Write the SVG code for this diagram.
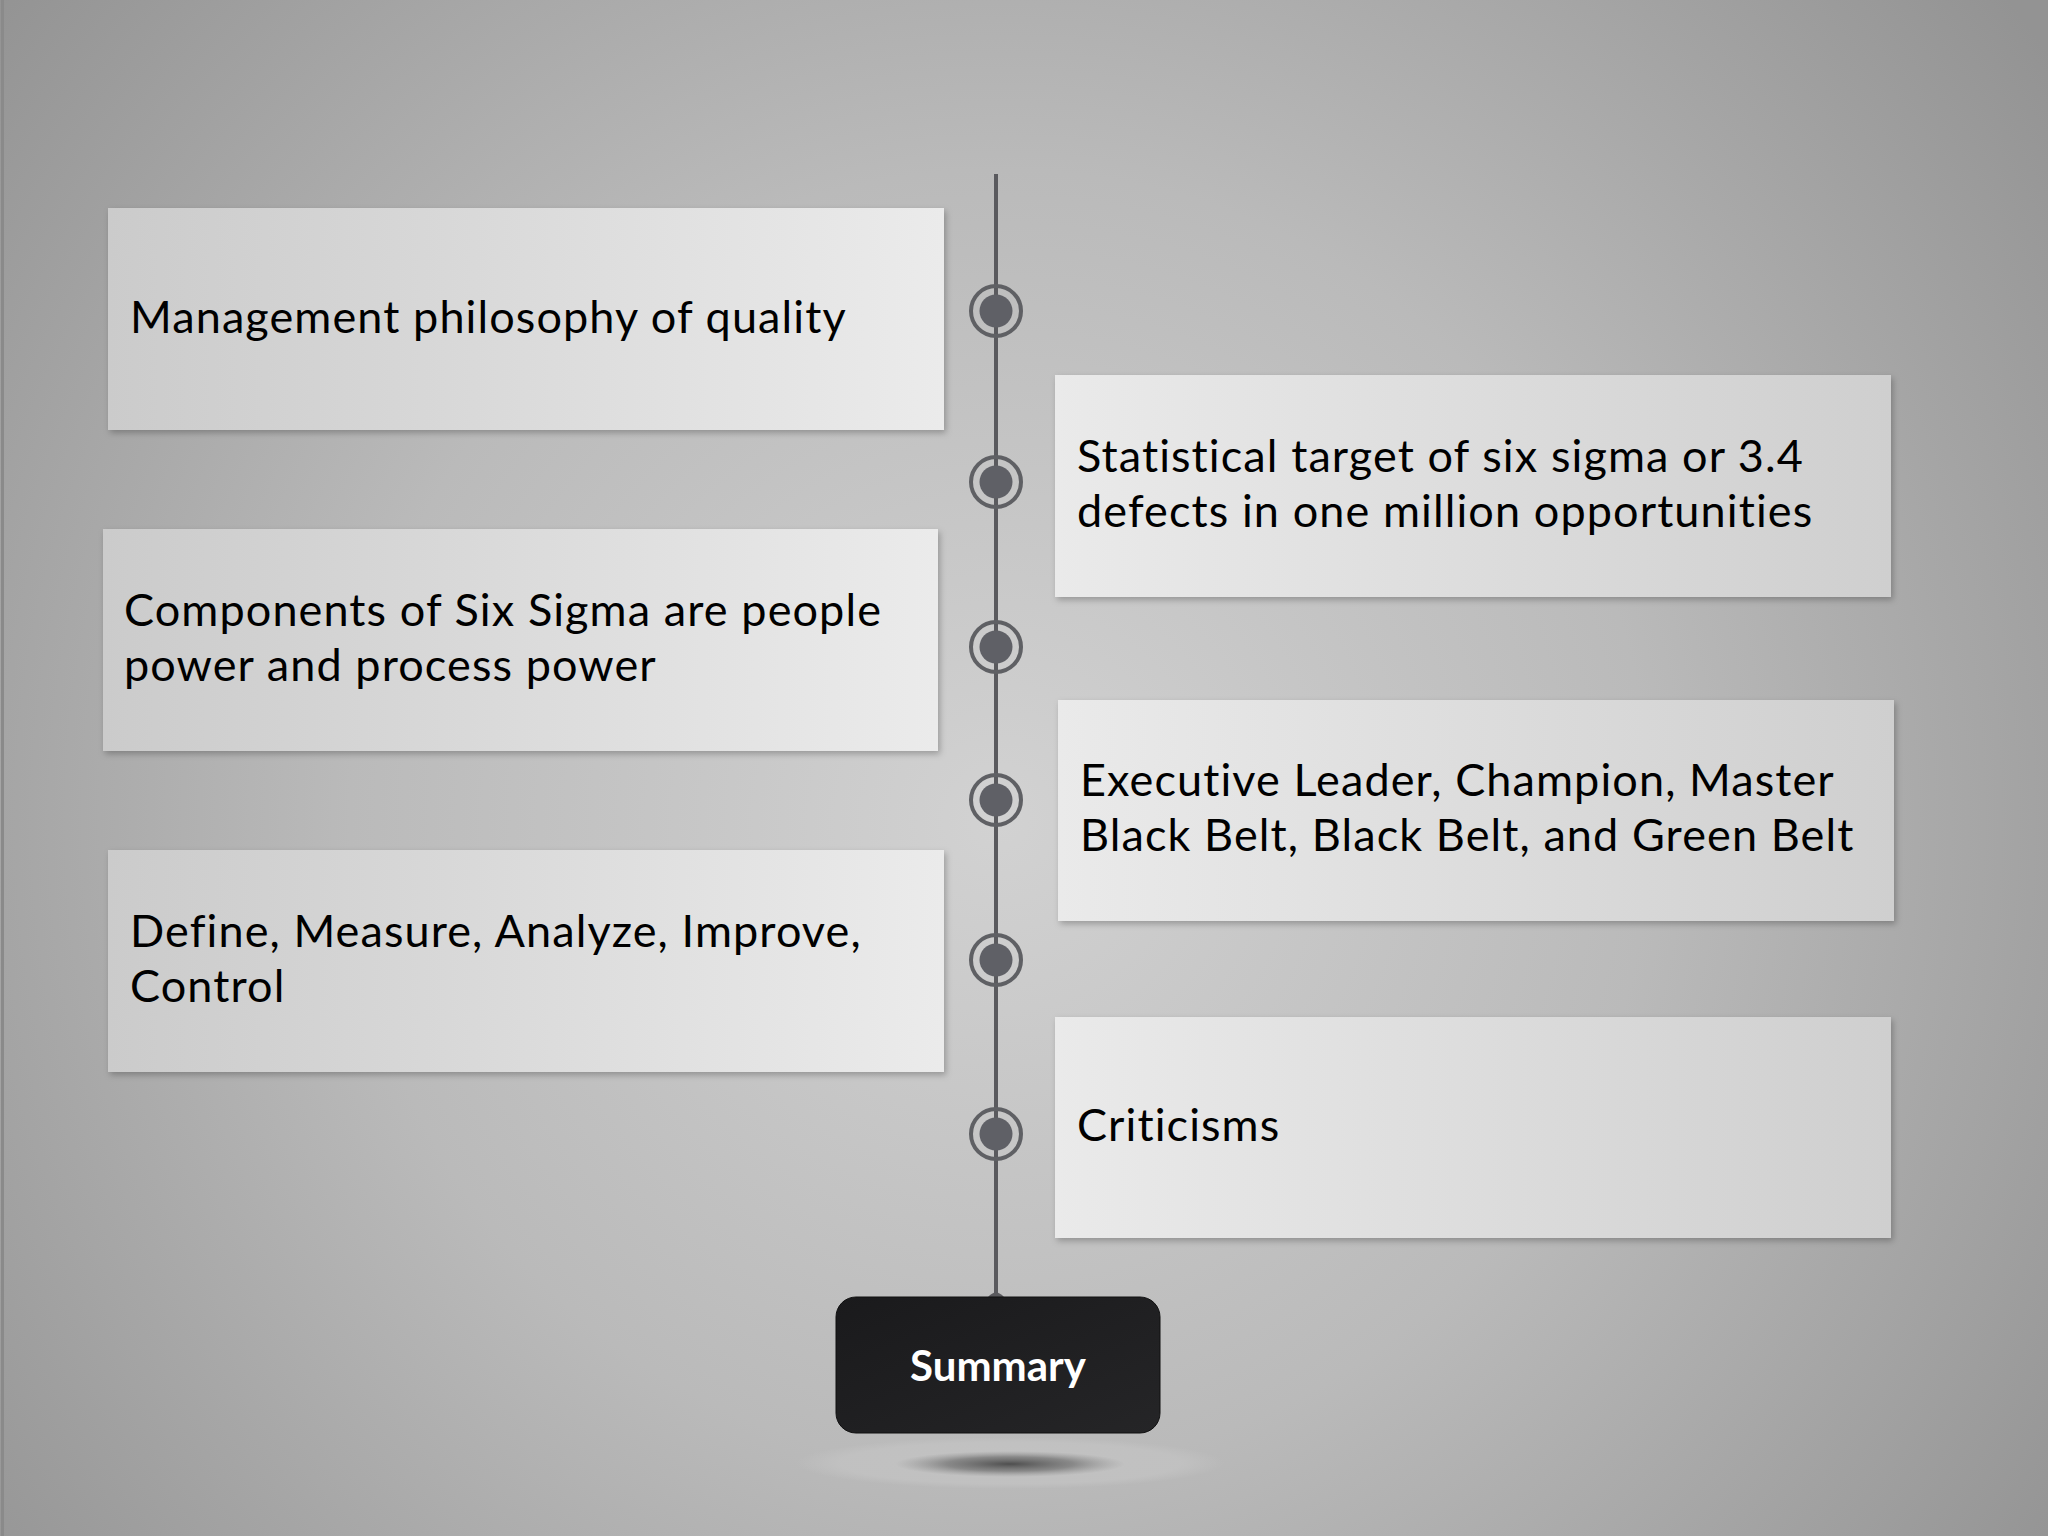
<svg xmlns="http://www.w3.org/2000/svg" width="2048" height="1536" viewBox="0 0 2048 1536">
<defs>
<radialGradient id="bg" cx="1000" cy="820" r="1300" gradientUnits="userSpaceOnUse">
<stop offset="0" stop-color="#d2d2d2"/>
<stop offset="0.5" stop-color="#bababa"/>
<stop offset="1" stop-color="#939393"/>
</radialGradient>
<linearGradient id="gl" x1="0" y1="0" x2="1" y2="0">
<stop offset="0" stop-color="#cbcbcb"/>
<stop offset="1" stop-color="#ebebeb"/>
</linearGradient>
<linearGradient id="gr" x1="0" y1="0" x2="1" y2="0">
<stop offset="0" stop-color="#eaeaea"/>
<stop offset="1" stop-color="#cfcfcf"/>
</linearGradient>
<linearGradient id="gs" x1="0" y1="0" x2="1" y2="1">
<stop offset="0" stop-color="#1a1a1c"/>
<stop offset="1" stop-color="#252527"/>
</linearGradient>
<radialGradient id="sh1">
<stop offset="0" stop-color="#c2c2c2" stop-opacity="0.95"/>
<stop offset="0.8" stop-color="#c2c2c2" stop-opacity="0.85"/>
<stop offset="1" stop-color="#c2c2c2" stop-opacity="0"/>
</radialGradient>
<radialGradient id="sh2">
<stop offset="0" stop-color="#484848" stop-opacity="0.95"/>
<stop offset="0.55" stop-color="#6a6a6a" stop-opacity="0.65"/>
<stop offset="1" stop-color="#8a8a8a" stop-opacity="0"/>
</radialGradient>
<filter id="ds" x="-5%" y="-5%" width="110%" height="115%">
<feDropShadow dx="2" dy="3" stdDeviation="3" flood-color="#000" flood-opacity="0.25"/>
</filter>
</defs>
<style>
.box{filter:url(#ds);}
.t{font-family:Lato,"Open Sans","Liberation Sans",sans-serif;font-size:45px;letter-spacing:1.1px;fill:#000;}
.ring{fill:none;stroke:#5f6064;stroke-width:4;}
.dot{fill:#5f6066;}
.sum{font-family:Lato,"Open Sans","Liberation Sans",sans-serif;font-size:42px;font-weight:bold;fill:#fff;}
</style>
<rect x="0" y="0" width="2048" height="1536" fill="url(#bg)"/>
<rect x="1" y="0" width="3" height="1536" fill="#8a8a8a"/>

<g id="shadow">
<ellipse cx="1010" cy="1463" rx="214" ry="26" fill="url(#sh1)"/>
<ellipse cx="1010" cy="1464" rx="115" ry="13" fill="url(#sh2)"/>
</g>

<g id="connectors">
<line x1="996" y1="174" x2="996" y2="1297" stroke="#5a5a5e" stroke-width="4"/>
<path d="M988 1297 Q996 1288 1004 1297 Z" fill="#5a5a5e"/>
</g>

<g id="markers">
<g id="m1"><circle class="ring" cx="996" cy="311" r="25"/><circle class="dot" cx="996" cy="311" r="16.5"/></g>
<g id="m2"><circle class="ring" cx="996" cy="482" r="25"/><circle class="dot" cx="996" cy="482" r="16.5"/></g>
<g id="m3"><circle class="ring" cx="996" cy="647" r="25"/><circle class="dot" cx="996" cy="647" r="16.5"/></g>
<g id="m4"><circle class="ring" cx="996" cy="800" r="25"/><circle class="dot" cx="996" cy="800" r="16.5"/></g>
<g id="m5"><circle class="ring" cx="996" cy="960" r="25"/><circle class="dot" cx="996" cy="960" r="16.5"/></g>
<g id="m6"><circle class="ring" cx="996" cy="1134" r="25"/><circle class="dot" cx="996" cy="1134" r="16.5"/></g>
</g>

<g id="node1">
<rect class="box" x="108" y="208" width="836" height="222" fill="url(#gl)"/>
<text class="t" x="130" y="333">Management philosophy of quality</text>
</g>
<g id="node2">
<rect class="box" x="1055" y="375" width="836" height="222" fill="url(#gr)"/>
<text class="t" x="1077" y="472">Statistical target of six sigma or 3.4</text>
<text class="t" x="1077" y="527">defects in one million opportunities</text>
</g>
<g id="node3">
<rect class="box" x="103" y="529" width="835" height="222" fill="url(#gl)"/>
<text class="t" x="124" y="626">Components of Six Sigma are people</text>
<text class="t" x="124" y="681">power and process power</text>
</g>
<g id="node4">
<rect class="box" x="1058" y="700" width="836" height="221" fill="url(#gr)"/>
<text class="t" x="1080" y="796">Executive Leader, Champion, Master</text>
<text class="t" x="1080" y="851">Black Belt, Black Belt, and Green Belt</text>
</g>
<g id="node5">
<rect class="box" x="108" y="850" width="836" height="222" fill="url(#gl)"/>
<text class="t" x="130" y="947">Define, Measure, Analyze, Improve,</text>
<text class="t" x="130" y="1002">Control</text>
</g>
<g id="node6">
<rect class="box" x="1055" y="1017" width="836" height="221" fill="url(#gr)"/>
<text class="t" x="1077" y="1141">Criticisms</text>
</g>
<g id="summary">
<rect x="836" y="1297" width="324" height="136" rx="20" fill="url(#gs)" stroke="#111" stroke-width="1"/>
<text class="sum" x="998" y="1381" text-anchor="middle">Summary</text>
</g>
</svg>
